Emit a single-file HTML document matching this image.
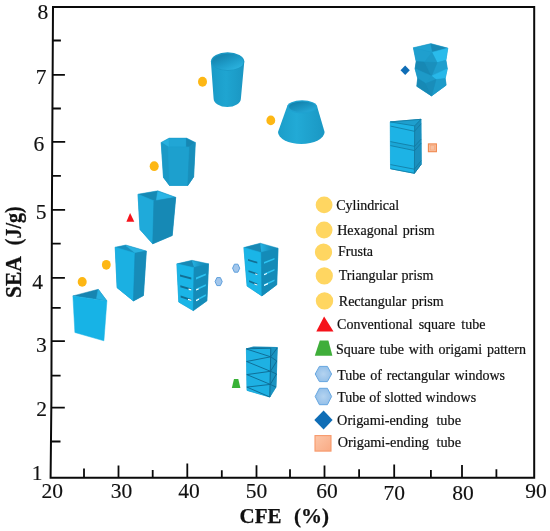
<!DOCTYPE html>
<html><head><meta charset="utf-8"><title>SEA vs CFE</title>
<style>
html,body{margin:0;padding:0;background:#fff;}
svg{display:block;}
text{font-family:"Liberation Serif","Times New Roman",serif;fill:#111;}
.num{font-size:21.5px;stroke:#111;stroke-width:0.15px;}
.lg{font-size:14px;stroke:#111;stroke-width:0.2px;}
.ax{font-size:21px;font-weight:bold;stroke:#111;stroke-width:0.25px;}
</style></head><body>
<svg width="550" height="531" viewBox="0 0 550 531">
<rect width="550" height="531" fill="#fff"/>
<!-- FRAME -->
<g id="frame" stroke="#0a0a0a" stroke-width="2" fill="none" stroke-linecap="butt">
<path d="M53,7 L534.2,7 L534.2,477.7 L50.6,477.7 L51.4,400 L51.9,210 Z" stroke-linejoin="miter"/>
<!-- y ticks -->
<path stroke-width="1.8" d="M52.8,40.5 H60.9 M52.7,74.8 H64.9 M52.5,108.5 H60.9 M52.4,141.8 H65.2 M52.2,175.9 H60.9 M51.9,209.9 H65.1 M51.8,243.7 H60.7 M51.7,277.9 H64.9 M51.6,307.8 H60.7 M51.6,341.1 H64.9 M51.5,375.6 H60.6 M51.4,407.6 H64.8 M51,441.5 H60.5"/>
<!-- x ticks -->
<path stroke-width="1.8" d="M84,477.7 V468.6 M118.5,477.7 V465.4 M152.7,477.7 V469.9 M187.3,477.7 V463.5 M221.8,477.7 V470.3 M256.5,477.7 V465.2 M290,477.7 V469.2 M324.5,477.7 V465.4 M359.1,477.7 V469.2 M394.2,477.7 V464.5 M430.9,477.7 V469.9 M462,477.7 V465 M496.4,477.7 V469.2"/>
</g>
<!-- AXIS NUMBERS -->
<g class="num" text-anchor="middle">
<text x="42.8" y="19.2">8</text>
<text x="41" y="83.7">7</text>
<text x="38.8" y="151">6</text>
<text x="41" y="218.6">5</text>
<text x="37.6" y="288.6">4</text>
<text x="41.4" y="352.2">3</text>
<text x="41.5" y="415.7">2</text>
<text x="37" y="480.1">1</text>
<text x="52.3" y="498.3">20</text>
<text x="121.4" y="498.3">30</text>
<text x="189.1" y="498.3">40</text>
<text x="256.5" y="498">50</text>
<text x="327.1" y="497.7">60</text>
<text x="394.3" y="499.5">70</text>
<text x="463" y="500.3">80</text>
<text x="536.1" y="497.7">90</text>
</g>
<text class="ax" x="239.5" y="523">CFE</text>
<text class="ax" x="294" y="523">(%)</text>
<text class="ax" transform="translate(20.7,298) rotate(-90) scale(1.025,1.07)">SEA</text>
<text class="ax" transform="translate(20.7,245.2) rotate(-90) scale(0.95,1.07)">(J/g)</text>

<!-- DATA DOTS -->
<g id="dots" fill="#FDB714">
<ellipse cx="202.5" cy="81.8" rx="4.5" ry="5"/>
<ellipse cx="270.8" cy="120.4" rx="4.4" ry="4.9"/>
<ellipse cx="154.2" cy="166.2" rx="4.5" ry="4.9"/>
<ellipse cx="106.3" cy="264.8" rx="4.4" ry="4.9"/>
<ellipse cx="82.2" cy="281.9" rx="4.5" ry="4.8"/>
</g>
<polygon points="130.1,212.9 126.4,221.8 134.3,221.8" fill="#F5131B"/>
<polygon points="234,378.9 238.3,378.9 240.4,388.1 231.8,388.1" fill="#38B236"/>
<polygon points="215.1,281.6 216.9,277.6 220.4,277.6 222.2,281.6 220.4,285.6 216.9,285.6" fill="#A2C6EB" stroke="#5E9FDC" stroke-width="1"/>
<polygon points="232.6,268.2 234.4,264.2 237.9,264.2 239.7,268.2 237.9,272.2 234.4,272.2" fill="#A2C6EB" stroke="#5E9FDC" stroke-width="1"/>
<polygon points="405.2,65.4 409.8,70.2 405.2,75 400.5,70.2" fill="#0F6DB6"/>
<rect x="428.4" y="143.9" width="8" height="7.8" fill="#F8C0A0" stroke="#F0884E" stroke-width="1.1"/><rect x="430.2" y="145.6" width="4.4" height="4.4" fill="none" stroke="#F4A070" stroke-width="0.5"/>

<!-- SHAPES -->
<g id="shapes">
<defs>
<linearGradient id="gcyl" x1="0" y1="0" x2="1" y2="0">
<stop offset="0" stop-color="#1A9AC6"/><stop offset="0.45" stop-color="#1FA5D1"/><stop offset="1" stop-color="#1A96C2"/>
</linearGradient>
<linearGradient id="gin" x1="0.1" y1="0" x2="0.9" y2="1">
<stop offset="0.2" stop-color="#1687B2"/><stop offset="0.55" stop-color="#1E9DCA"/><stop offset="0.95" stop-color="#2CB4E0"/>
</linearGradient>
<linearGradient id="gfr" x1="0" y1="0" x2="1" y2="0">
<stop offset="0" stop-color="#1B9EC9"/><stop offset="0.4" stop-color="#22AAD6"/><stop offset="1" stop-color="#1A97C3"/>
</linearGradient>
<linearGradient id="gwin" x1="0" y1="0" x2="1" y2="0">
<stop offset="0.05" stop-color="#24B0E0"/><stop offset="0.55" stop-color="#1A94C2"/><stop offset="1" stop-color="#158AB6"/>
</linearGradient>
<radialGradient id="ghex" cx="0.5" cy="0.5" r="0.6">
<stop offset="0" stop-color="#B4D3F0"/><stop offset="1" stop-color="#8FBDE8"/>
</radialGradient>
<linearGradient id="gsq" x1="0" y1="0" x2="1" y2="1">
<stop offset="0" stop-color="#FCC6A8"/><stop offset="1" stop-color="#F9AA84"/>
</linearGradient>
<linearGradient id="gin2" x1="0.1" y1="0" x2="0.9" y2="1">
<stop offset="0.15" stop-color="#1383AE"/><stop offset="0.6" stop-color="#1C98C5"/><stop offset="1" stop-color="#27ACDA"/>
</linearGradient>
</defs>
<g stroke-width="0.5" stroke-linejoin="round">
<!-- cylinder -->
<g id="cyl">
<path d="M210.9,61.5 L213.6,98.4 A13.6,8.6 0 0 0 240.9,98.4 L244.3,61.5 Z" fill="url(#gcyl)"/>
<ellipse cx="227.6" cy="61.5" rx="16.7" ry="9.2" fill="#1B98C4"/>
<ellipse cx="227.8" cy="61.9" rx="15.6" ry="8.2" fill="url(#gin)"/>
</g>
<!-- frustum -->
<g id="frus">
<path d="M287,106.8 L278,132 A23.3,11.9 0 0 0 324.6,132 L317.2,106.8 Z" fill="url(#gfr)"/>
<ellipse cx="302.1" cy="106.8" rx="15.1" ry="6.6" fill="#1FA2D0"/>
<ellipse cx="302.3" cy="106.7" rx="13.3" ry="5.3" fill="url(#gin2)"/>
</g>
<!-- hexagonal prism -->
<g id="hex">
<polygon points="161.2,142.4 169.1,138.1 186.6,138.1 195.3,142.4 193.6,176.9 187.8,185.4 169.5,185.4 163.5,177.5" fill="#1C9AC9" stroke="#1C9AC9"/>
<polygon points="162,142.5 169.3,138.7 169.3,146.6 168.2,146.6" fill="#27B0DE" stroke="#27B0DE"/>
<polygon points="169.3,138.7 186.4,138.7 186.4,146.6 169.3,146.6" fill="#21A6D5" stroke="#21A6D5"/>
<polygon points="186.4,138.7 194.4,142.5 189.3,146.6 186.4,146.6" fill="#1787B2" stroke="#1787B2"/>
<polygon points="161.2,142.4 168,147 169.5,185.4 163.5,177.5" fill="#1B99C6" stroke="#1B99C6"/>
<polygon points="168,147 189.5,147.2 187.8,185.4 169.5,185.4" fill="#1DA0CE" stroke="#1DA0CE"/>
<polygon points="189.5,147.2 195.3,142.4 193.6,176.9 187.8,185.4" fill="#198FBB" stroke="#198FBB"/>
</g>
<!-- square tube -->
<g id="sq">
<polygon points="138,194.2 157.8,190.8 175.7,197.3 172.2,235.5 152.7,243.8 140,229.5" fill="#1B97C6" stroke="#1B97C6"/>
<polygon points="139,194.4 157.7,191.4 156.3,200.6 153.9,200.2" fill="#1689B4" stroke="#1689B4"/>
<polygon points="157.7,191.4 174.4,197.3 156.3,200.6" fill="#2BB5E5" stroke="#2BB5E5"/>
<polygon points="138,194.2 153.9,200.9 152.7,243.8 140,229.5" fill="#1FAADA" stroke="#1FAADA"/>
<polygon points="153.9,200.9 175.7,197.3 172.2,235.5 152.7,243.8" fill="#1689B5" stroke="#1689B5"/>
</g>
<!-- rectangular prism -->
<g id="rect">
<polygon points="115.2,247.2 125.9,245 146.3,251 143.4,295.6 133.4,300.9 117.1,287.7" fill="#1B97C6" stroke="#1B97C6"/>
<polygon points="116.5,247.4 125.8,245.6 134.9,252.7" fill="#1990BE" stroke="#1990BE"/>
<polygon points="125.8,245.6 145,251 134.9,252.7" fill="#2AB2E1" stroke="#2AB2E1"/>
<polygon points="115.2,247.2 135,253.3 133.4,300.9 117.1,287.7" fill="#1BB0E2" stroke="#1BB0E2"/>
<polygon points="135,253.3 146.3,251 143.4,295.6 133.4,300.9" fill="#178BB8" stroke="#178BB8"/>
</g>
<!-- triangular prism -->
<g id="tri">
<polygon points="72.9,295.9 98.2,289.3 106.9,300.9" fill="#1785B1" stroke="#1785B1"/>
<polygon points="98.2,289.3 106.9,300.9 96.5,298.5" fill="#28B1E0" stroke="#28B1E0"/>
<polygon points="72.9,295.9 106.9,300.9 103.9,340.8 74.9,332.5" fill="#17B3E6" stroke="#17B3E6"/>
</g>
<!-- tube rectangular windows -->
<g id="win1">
<polygon points="176.9,263.8 192,260.3 208.5,263.8 206.9,300.8 193.3,310.6 178.8,302.1" fill="#1A94C2" stroke="#1A94C2"/>
<polygon points="177.8,264 192,260.9 194,267" fill="#1888B4" stroke="#1888B4"/>
<polygon points="192,260.9 207.6,264 194,267" fill="url(#gwin)" stroke="none"/>
<polygon points="176.9,263.8 194,267.8 193.3,310.6 178.8,302.1" fill="#1AB5E7" stroke="#1AB5E7"/>
<polygon points="194,267.8 208.5,263.8 206.9,300.8 193.3,310.6" fill="#148BB8" stroke="#148BB8"/>
<g stroke="none">
<polygon points="180,274.4 191.3,277.4 191.3,279.4 180,276.4" fill="#126F94"/>
<polygon points="180.3,285.3 191.3,288.6 191.3,290.6 180.3,287.3" fill="#126F94"/>
<polygon points="180.6,295.6 191.3,299 191.3,301 180.6,297.6" fill="#126F94"/>
<polygon points="196,277.6 205.8,273.4 205.8,275.2 196,279.6" fill="#2CC3F2"/>
<polygon points="196,288.8 205.8,284.2 205.8,286 196,290.6" fill="#2CC3F2"/>
<polygon points="196,299.4 205.8,294.2 205.8,296 196,301.2" fill="#2CC3F2"/>
<polygon points="188.6,288.6 191.3,289.3 191.3,290.6 188.6,289.9" fill="#fff"/>
<polygon points="188,298.8 191.3,299.8 191.3,301 188,300" fill="#fff"/>
<polygon points="196,289.4 198.6,288.2 198.6,289.4 196,290.6" fill="#fff"/>
<polygon points="196,300 199,298.5 199,299.8 196,301.2" fill="#fff"/>
</g>
</g>
<!-- tube slotted windows -->
<g id="win2">
<polygon points="243.9,247.5 260.3,243.2 278,248.2 276.7,284.8 261.9,295.9 247.1,286.1" fill="#1A94C2" stroke="#1A94C2"/>
<polygon points="244.9,247.7 260.3,243.8 261.3,252" fill="#1888B4" stroke="#1888B4"/>
<polygon points="260.3,243.8 277,248.3 261.3,252" fill="url(#gwin)" stroke="none"/>
<polygon points="243.9,247.5 261.3,252.8 261.9,295.9 247.1,286.1" fill="#1AB5E7" stroke="#1AB5E7"/>
<polygon points="261.3,252.8 278,248.2 276.7,284.8 261.9,295.9" fill="#148BB8" stroke="#148BB8"/>
<g stroke="none">
<polygon points="248,259 257.3,261.8 257.3,263.6 248,260.8" fill="#126F94"/>
<polygon points="248.5,270.2 257.3,273.2 257.3,275 248.5,272" fill="#126F94"/>
<polygon points="249,280.3 257.3,283.6 257.3,285.4 249,282.1" fill="#126F94"/>
<polygon points="264,262 274.5,258 274.5,259.6 264,263.8" fill="#2CC3F2"/>
<polygon points="264,273.4 274.5,269 274.5,270.6 264,275.2" fill="#2CC3F2"/>
<polygon points="264,284.2 274.5,279.4 274.5,281 264,286" fill="#2CC3F2"/>
<polygon points="255.2,273.4 257.3,274 257.3,275 255.2,274.4" fill="#fff"/>
<polygon points="254.4,283.4 257.3,284.5 257.3,285.4 254.4,284.4" fill="#fff"/>
<polygon points="264,274.2 267,273 267,274 264,275.2" fill="#fff"/>
<polygon points="264,284.8 268,283 268,284.2 264,286" fill="#fff"/>
</g>
</g>
<!-- origami pattern tube -->
<g id="ori">
<polygon points="246.4,348.8 253.6,346.9 277.3,347.5 276,387.1 269.8,397 247,390.4" fill="#1A94C2" stroke="#1A94C2"/>
<polygon points="246.4,348.8 253.6,346.9 277.3,347.5 270.8,348.2" fill="#1785B1" stroke="#1785B1"/>
<polygon points="246.4,348.8 270.8,348.2 269.8,397 247,390.4" fill="#1EB1E3" stroke="#1EB1E3"/>
<polygon points="270.8,348.2 277.3,347.5 276,387.1 269.8,397" fill="#1A93C1" stroke="#1A93C1"/>
<g fill="none" stroke="#0F6C93" stroke-width="0.95">
<polyline points="246.4,348.8 270.8,348.2"/>
<polyline points="246.4,349 270.7,356.8 246.6,361.5 270.5,371.3 246.8,374.6 270.3,384.4 246.9,387.1 269.8,397"/>
<polyline points="270.8,348.2 269.8,397"/>
<polyline points="277.2,348 270.7,356.8 276.8,361 270.5,371.3 276.5,374 270.3,384.4 276,387.1"/>
</g>
</g>
<!-- origami crash box (square) -->
<g id="cb1">
<polygon points="413.4,47.7 430.9,43.6 447.8,48.1 445.9,60.3 447.3,68.8 445.2,78.4 446.1,85.2 431.5,95.9 416.8,86.3 417.7,78.4 415.1,68.8 416.2,61.5" fill="#1C98C6" stroke="#1C98C6"/>
<polygon points="414.3,47.9 430.9,44.2 432,51.8" fill="#20A2D1" stroke="#20A2D1"/>
<polygon points="430.9,44.2 446.8,48.2 432.4,51.4" fill="#1889B5" stroke="#1889B5"/>
<polygon points="413.4,47.7 432,52.4 424.7,62 416.2,61.5" fill="#1F9FCE" stroke="#1F9FCE"/>
<polygon points="416.2,61.5 424.7,62 431.5,75.9 415.1,68.8" fill="#1788B4" stroke="#1788B4"/>
<polygon points="415.1,68.8 431.5,75.9 425.8,83.5 417.7,78.4" fill="#1D9AC8" stroke="#1D9AC8"/>
<polygon points="417.7,78.4 425.8,83.5 431.5,95.9 416.8,86.3" fill="#1789B5" stroke="#1789B5"/>
<polygon points="432,52.4 447.8,48.1 445.9,60.3 437.1,62.6" fill="#2ABBEB" stroke="#2ABBEB"/>
<polygon points="437.1,62.6 445.9,60.3 447.3,68.8 431.5,75.9" fill="#1F9FCE" stroke="#1F9FCE"/>
<polygon points="431.5,75.9 447.3,68.8 445.2,78.4 436,79.5" fill="#28B8E9" stroke="#28B8E9"/>
<polygon points="436,79.5 445.2,78.4 446.1,85.2 431.5,95.9" fill="#1D9BC9" stroke="#1D9BC9"/>
<polygon points="432,52.4 424.7,62 437.1,62.6" fill="#1D9AC8" stroke="#1D9AC8"/>
<polygon points="424.7,62 437.1,62.6 431.5,75.9" fill="#1A90BD" stroke="#1A90BD"/>
<polygon points="431.5,75.9 425.8,83.5 436,79.5" fill="#1D9AC8" stroke="#1D9AC8"/>
<polygon points="425.8,83.5 436,79.5 431.5,95.9" fill="#198DBA" stroke="#198DBA"/>
</g>
<!-- origami crash box (triangular) -->
<g id="cb2">
<polygon points="390.3,121.9 421,119.3 421.3,164.1 414.4,173.3 390.5,168.7" fill="#1C9AC8" stroke="#1C9AC8"/>
<polygon points="390.3,121.9 421,119.3 414.7,125.9" fill="#1E9FCE" stroke="#1E9FCE"/>
<polygon points="390.3,121.9 414.7,125.9 414.4,173.3 390.5,168.7" fill="#1DB3E5" stroke="#1DB3E5"/>
<polygon points="414.7,125.9 421,119.3 421.3,164.1 414.4,173.3" fill="#1A8FBD" stroke="#1A8FBD"/>
<polygon points="390.4,141.6 414.6,146.3 414.6,150.6 390.4,145.6" fill="#1BA6D6" stroke="none"/>
<g fill="none" stroke="#12789F" stroke-width="0.8">
<polyline points="390.3,121.9 414.7,125.9 421,119.3"/>
<polyline points="390.3,121.9 421,119.3"/>
<polyline points="390.6,126.1 414.5,131.3 421,123.8"/>
<polyline points="390.4,141.6 414.6,146.3 421.2,139"/>
<polyline points="390.4,145.6 414.6,150.6 421.2,143"/>
<polyline points="390.5,164.6 414.4,169.2 421.3,160.5"/>
<polyline points="414.7,125.9 414.4,173.3"/>
<polyline points="390.5,168.7 414.4,173.3 421.3,164.1"/>
</g>
</g>
</g>
</g>

<!-- LEGEND -->
<g id="legend">
<g fill="#FFD661">
<circle cx="324.1" cy="204.9" r="8.4"/>
<circle cx="324.1" cy="230" r="8.4"/>
<circle cx="323.5" cy="252.1" r="8.6"/>
<circle cx="324.3" cy="275.9" r="8.6"/>
<circle cx="324.5" cy="300.9" r="8.7"/>
</g>
<polygon points="324.1,316.4 316.3,331.4 333.5,331.4" fill="#F5131B"/>
<polygon points="319.8,340.4 328.4,340.4 332.4,355.7 314.8,355.7" fill="#3FAE3A"/>
<polygon points="315.2,374 319.4,366.4 327.4,366.4 331.6,374 327.4,381.6 319.4,381.6" fill="url(#ghex)" stroke="#66A6E0" stroke-width="1"/>
<polygon points="315.2,396.5 319.4,388.3 327.4,388.3 331.6,396.5 327.4,404.7 319.4,404.7" fill="url(#ghex)" stroke="#66A6E0" stroke-width="1"/>
<polygon points="323.6,410.5 332.6,420 323.6,429.5 314.3,420" fill="#0F6DB6"/>
<rect x="315" y="435.6" width="16" height="15.5" fill="url(#gsq)" stroke="#F7996B" stroke-width="1.1"/>
<g class="lg">
<text x="336.2" y="209.8">Cylindrical</text>
<text x="337.2" y="235" style="word-spacing:1.5px">Hexagonal prism</text>
<text x="338" y="255.5">Frusta</text>
<text x="338.8" y="279.7" style="word-spacing:0.6px">Triangular prism</text>
<text x="338.8" y="305.5" style="word-spacing:1.8px">Rectangular prism</text>
<text x="337.1" y="328.6" style="word-spacing:2.6px">Conventional square tube</text>
<text x="336" y="353.8" style="word-spacing:1.4px">Square tube with origami pattern</text>
<text x="337.2" y="379.8" style="word-spacing:1.3px">Tube of rectangular windows</text>
<text x="337.2" y="402" style="word-spacing:0.2px">Tube of slotted windows</text>
<text x="337.1" y="425.4" style="word-spacing:4.4px;font-size:14.3px">Origami-ending tube</text>
<text x="337.7" y="447.3" style="word-spacing:3.9px;font-size:14.3px">Origami-ending tube</text>
</g>
</g>
</svg>
</body></html>
